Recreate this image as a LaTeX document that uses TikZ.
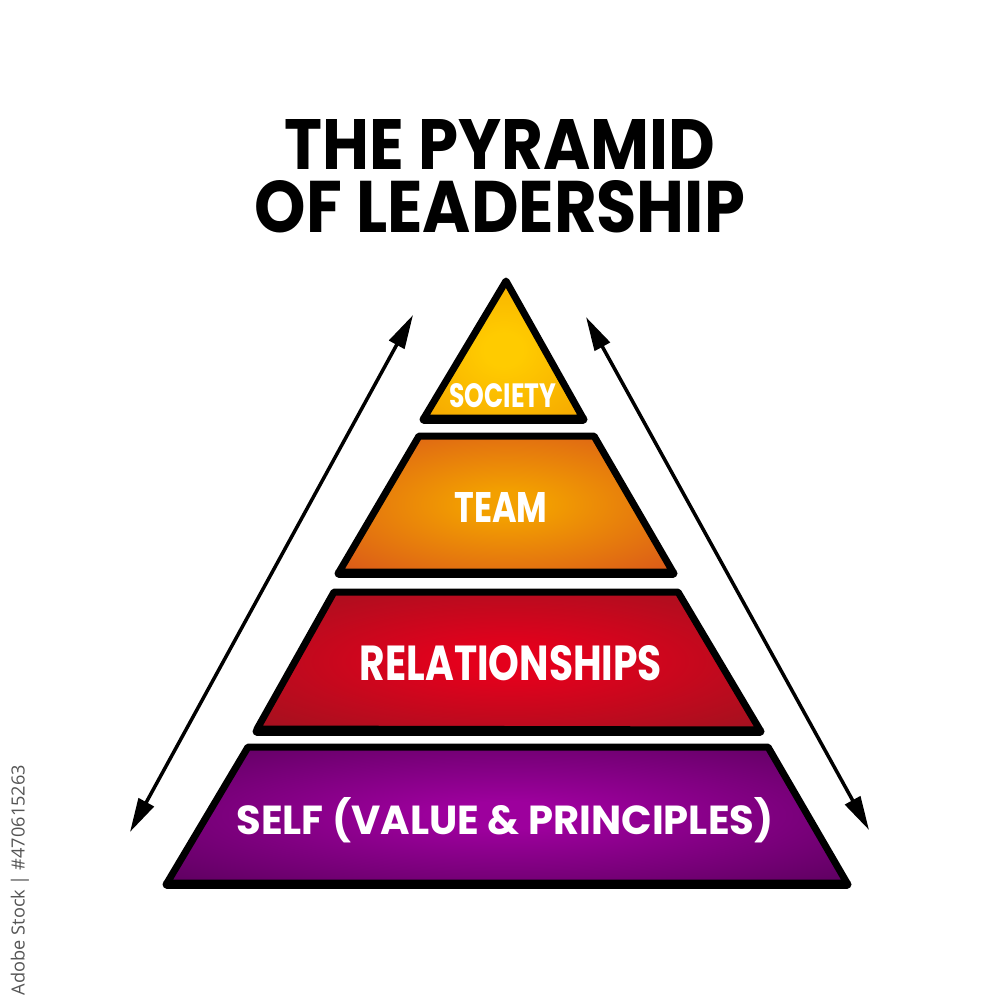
\documentclass[tikz,border=0pt]{standalone}
\usepackage{fontspec}
\newfontfamily\handfont{Poppins}
\newfontfamily\wmfont{Open Sans}
\usetikzlibrary{arrows.meta}
\definecolor{socIn}{HTML}{FFCB00}
\definecolor{socOut}{HTML}{F5A600}
\definecolor{teamIn}{HTML}{F3A000}
\definecolor{teamOut}{HTML}{D9561A}
\definecolor{relIn}{HTML}{E4001C}
\definecolor{relOut}{HTML}{A0121F}
\definecolor{selfIn}{HTML}{9D009D}
\definecolor{selfOut}{HTML}{5C005E}
\definecolor{wmgray}{HTML}{555555}
\pgfdeclareradialshading{socsh}{\pgfpointorigin}{color(0bp)=(socIn); color(6bp)=(socIn); color(36bp)=(socOut); color(50bp)=(socOut)}
\pgfdeclareradialshading{teamsh}{\pgfpointorigin}{color(0bp)=(teamIn); color(5bp)=(teamIn); color(36bp)=(teamOut); color(50bp)=(teamOut)}
\pgfdeclareradialshading{relsh}{\pgfpointorigin}{color(0bp)=(relIn); color(5bp)=(relIn); color(36bp)=(relOut); color(50bp)=(relOut)}
\pgfdeclareradialshading{selfsh}{\pgfpointorigin}{color(0bp)=(selfIn); color(5bp)=(selfIn); color(36bp)=(selfOut); color(50bp)=(selfOut)}
\tikzset{
  layer/.style={draw=black, line width=7pt, line join=round},
  bottomedge/.style={draw=black, line width=9pt, line cap=round},
  lbl/.style={text=white, font=\handfont\bfseries, inner sep=0pt, anchor=base},
  ttl/.style={text=black, font=\handfont\bfseries, inner sep=0pt, align=center, anchor=north},
  dbl/.style={line width=3.5pt, {Triangle[length=34pt,width=17pt]}-{Triangle[length=34pt,width=17pt]}}
}
\begin{document}
\begin{tikzpicture}[x=1pt,y=-1pt]
\useasboundingbox[fill=white] (0,0) rectangle (1000,1000);

% title
\node[ttl] (title) at (500,119) {\resizebox{430pt}{50pt}{THE PYRAMID}\\[10pt]\resizebox{490pt}{52pt}{OF LEADERSHIP}};

% layers
\path[layer, shading=socsh] (506,281) -- (583,418) -- (424,418) -- cycle;
\draw[bottomedge] (424,419) -- (583,419);

\path[layer, shading=teamsh] (419,436) -- (594,436) -- (673,572) -- (339,572) -- cycle;
\draw[bottomedge] (339,573) -- (673,573);

\path[layer, shading=relsh] (334,592) -- (678,592) -- (760,730) -- (257,729) -- cycle;
\draw[bottomedge] (257,731) -- (760,731);

\path[layer, shading=selfsh] (248,747) -- (768,747) -- (847,883) -- (167,883) -- cycle;
\draw[bottomedge] (167,884) -- (847,884);

% labels
\node[lbl] (soc) at (503,407) {\resizebox{107pt}{24pt}{SOCIETY}};
\node[lbl] (team) at (501,522) {\resizebox{93pt}{30pt}{TEAM}};
\node[lbl] (rel) at (511,680) {\resizebox{302pt}{35pt}{RELATIONSHIPS}};
\node[lbl] (self) at (505,834) {\resizebox{537pt}{37pt}{SELF (VALUE \& PRINCIPLES)}};

% arrows
\coordinate (la) at (413,315);
\coordinate (lb) at (130,832);
\coordinate (ra) at (586,317);
\coordinate (rb) at (869,830);
\draw[dbl] (la) -- (lb);
\draw[dbl] (ra) -- (rb);

% stock id
\node[text=wmgray, font=\wmfont, inner sep=0pt, rotate=90] (wm) at (20,880) {\resizebox{230pt}{!}{Adobe Stock | \#470615263}};
\end{tikzpicture}
\end{document}
